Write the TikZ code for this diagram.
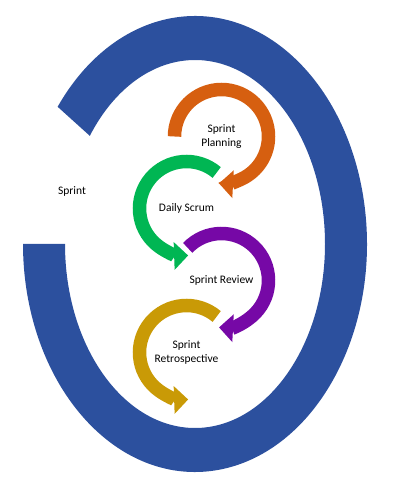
\documentclass[tikz,border=0pt]{standalone}
\usepackage{fontspec}
\setmainfont{Carlito}
\usetikzlibrary{arrows.meta}
\definecolor{ringblue}{HTML}{2C509E}
\definecolor{planorange}{HTML}{D65F10}
\definecolor{scrumgreen}{HTML}{00B653}
\definecolor{reviewpurple}{HTML}{7608A6}
\definecolor{retrogold}{HTML}{C99A06}
\begin{document}
\begin{tikzpicture}[x=1pt,y=1pt,
  lbl/.style={align=center,inner sep=0pt,font=\fontsize{11.5}{14.5}\selectfont},
  cyc/.style={line width=13.5pt,line cap=butt,-{Triangle[length=14pt,width=27pt]}}]
\useasboundingbox (0,0) rectangle (400,485);
\coordinate (ring) at (195,241);
\coordinate (c1) at (221.5,348.5);
\coordinate (c2) at (186.5,276.5);
\coordinate (c3) at (221.5,204.5);
\coordinate (c4) at (186.5,132.5);
% big ring
\fill[ringblue] ([shift={(143:172pt and 228pt)}]ring)
  arc[start angle=143,end angle=-180,x radius=172pt,y radius=228pt]
  -- ([shift={(180:130pt and 184pt)}]ring)
  arc[start angle=-180,end angle=144,x radius=130pt,y radius=184pt]
  -- cycle;
% cycle arrows
\draw[cyc,planorange] ([shift={(180:47pt)}]c1) arc[start angle=180,end angle=-93,radius=47pt];
\draw[cyc,scrumgreen] ([shift={(50:47pt)}]c2) arc[start angle=50,end angle=272,radius=47pt];
\draw[cyc,reviewpurple] ([shift={(136:47pt)}]c3) arc[start angle=136,end angle=-93,radius=47pt];
\draw[cyc,retrogold] ([shift={(50:47pt)}]c4) arc[start angle=50,end angle=272,radius=47pt];
% labels
\node[lbl] (sprint) at (72,293.5) {Sprint};
\node[lbl] (planning) at (c1) {Sprint\\Planning};
\node[lbl] (daily) at (c2) {Daily Scrum};
\node[lbl] (review) at (c3) {Sprint Review};
\node[lbl] (retro) at (c4) {Sprint\\Retrospective};
\end{tikzpicture}
\end{document}
